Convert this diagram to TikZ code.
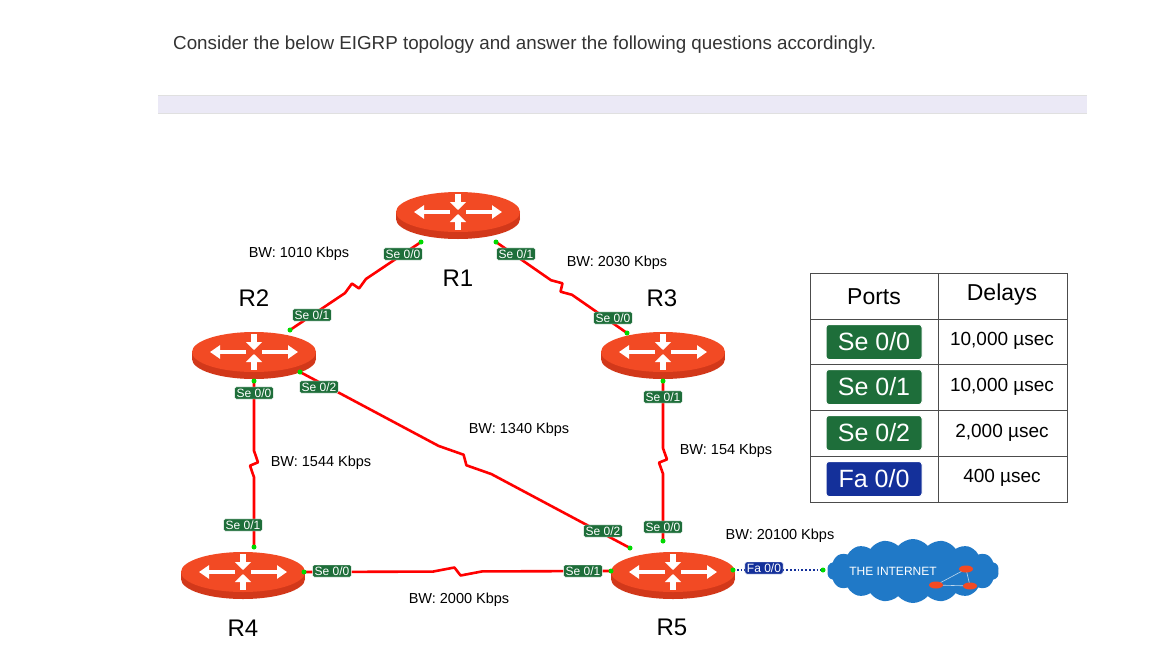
\documentclass[tikz,border=0pt]{standalone}
\usepackage{fontspec}
\setmainfont{Liberation Sans}
\usetikzlibrary{calc,shapes.symbols,arrows.meta}
\definecolor{rtop}{HTML}{F24A24}
\definecolor{rbot}{HTML}{D2381A}
\definecolor{pgreen}{HTML}{1E6E3A}
\definecolor{pblue}{HTML}{14309A}
\definecolor{cloudb}{HTML}{2079C7}
\definecolor{txt}{HTML}{333333}
\definecolor{band}{HTML}{EBE9F6}
\tikzset{
  port/.style={fill=pgreen,draw=white,line width=0.4pt,rounded corners=1.5pt,text=white,font=\fontsize{12}{13}\selectfont,inner xsep=2pt,inner ysep=1.6pt},
  fport/.style={port,fill=pblue},
  bw/.style={font=\fontsize{14.5}{17}\selectfont,text=black},
  rname/.style={font=\fontsize{24}{27}\selectfont,text=black},
  link/.style={red,line width=2.6pt,line join=round},
  pdot/.style={circle,fill=green!85!black,inner sep=0pt,minimum size=5pt},
  tport/.style={fill=pgreen,rounded corners=3pt,text=white,font=\fontsize{25}{28}\selectfont,minimum width=96pt,minimum height=35pt,draw=white,line width=1pt,inner sep=1pt},
  tdel/.style={font=\fontsize{19}{22}\selectfont,text=black},
  router/.pic={
    \fill[rbot] (0,7) ellipse [x radius=62,y radius=20];
    \fill[rbot] (-62,0) rectangle (62,7);
    \fill[rtop] (0,0) ellipse [x radius=62,y radius=20];
    \draw[white,line width=4pt,-{Triangle[length=10pt,width=13pt]}] (-8,0) -- (-44,0);
    \draw[white,line width=4pt,-{Triangle[length=10pt,width=13pt]}] (8,0) -- (44,0);
    \draw[white,line width=6pt,-{Triangle[length=8pt,width=16pt]}] (0,-18) -- (0,-2);
    \draw[white,line width=6pt,-{Triangle[length=8pt,width=16pt]}] (0,18) -- (0,2);
  }
}
\newcommand{\bolt}[2]{%
  \draw[link] (#1) -- ($(#1)!0.42!(#2)$) -- ($(#1)!0.49!(#2)!4pt!90:(#2)$) -- ($(#1)!0.51!(#2)!-4pt!90:(#2)$) -- ($(#1)!0.58!(#2)$) -- (#2);}
\begin{document}
\begin{tikzpicture}[x=1pt,y=-1pt]
\useasboundingbox[fill=white] (0,0) rectangle (1152,648);
\node[anchor=west,text=txt,font=\fontsize{18.8}{22}\selectfont,inner sep=0pt] (title) at (173,45) {Consider the below EIGRP topology and answer the following questions accordingly.};
\fill[band] (158,95) rectangle (1087,113);
\draw[black!12] (158,95) -- (1087,95) (158,113) -- (1087,113);

% routers
\pic at (458,212) {router}; \pic at (254,352) {router}; \pic at (663,352) {router};
\pic at (243,572) {router}; \pic at (673,572) {router};
% port points
\coordinate (a1) at (421,242); \coordinate (a2) at (496,242);
\coordinate (b1) at (290,330); \coordinate (b2) at (300,372); \coordinate (b0) at (254,381);
\coordinate (c0) at (627,333); \coordinate (c1) at (663,381);
\coordinate (d1) at (254,547); \coordinate (d0) at (304,572);
\coordinate (e2) at (630,548); \coordinate (e0) at (663,541); \coordinate (e1) at (611,571); \coordinate (ef) at (733,570);
\coordinate (net) at (823,570);
% links
\bolt{a1}{b1} \bolt{a2}{c0} \bolt{b0}{d1} \bolt{b2}{e2} \bolt{c1}{e0} \bolt{d0}{e1}
\draw[pblue,line width=1.8pt,dotted] (ef) -- (net);
% cloud
\node[cloud,cloud puffs=18,cloud puff arc=100,aspect=3.0,fill=cloudb,minimum width=172pt,minimum height=64pt,inner sep=0pt] (cloud) at (913,571) {};
\node[text=white,font=\fontsize{12}{14}\selectfont] (inet) at (893,571) {THE INTERNET};
\coordinate (m1) at (966,569); \coordinate (m2) at (936,585); \coordinate (m3) at (970,586);
\draw[white!70!cloudb,line width=0.6pt] (m1) -- (m2) -- (m3) -- (m1);
\foreach \m in {m1,m2,m3}{\fill[rtop] (\m) ellipse [x radius=7,y radius=3.5];}
% dots
\foreach \p in {a1,a2,b1,b2,b0,c0,c1,d1,d0,e2,e0,e1,ef,net}{\node[pdot] at (\p) {};}
% port labels
\node[port] (l1) at (403,254) {Se 0/0}; \node[port] (l2) at (516,254) {Se 0/1};
\node[port] (l3) at (312,315) {Se 0/1}; \node[port] (l4) at (319,387) {Se 0/2};
\node[port] (l5) at (254,393) {Se 0/0}; \node[port] (l6) at (613,318) {Se 0/0};
\node[port] (l7) at (663,397) {Se 0/1}; \node[port] (l8) at (243,525) {Se 0/1};
\node[port] (l9) at (332,571) {Se 0/0}; \node[port] (l10) at (603,531) {Se 0/2};
\node[port] (l11) at (663,527) {Se 0/0}; \node[port] (l12) at (583,571) {Se 0/1};
\node[fport] (l13) at (764,568) {Fa 0/0};
% text labels
\node[bw] (w1) at (299,254) {BW: 1010 Kbps}; \node[bw] (w2) at (617,263) {BW: 2030 Kbps};
\node[bw] (w3) at (519,430) {BW: 1340 Kbps}; \node[bw] (w4) at (321,463) {BW: 1544 Kbps};
\node[bw] (w5) at (726,451) {BW: 154 Kbps}; \node[bw] (w6) at (780,536) {BW: 20100 Kbps};
\node[bw] (w7) at (459,600) {BW: 2000 Kbps};
\node[rname] (n1) at (458,278) {R1}; \node[rname] (n2) at (254,298) {R2};
\node[rname] (n3) at (662,298) {R3}; \node[rname] (n4) at (243,628) {R4};
\node[rname] (n5) at (672,627) {R5};
% table
\draw[black!70,line width=0.8pt] (810,273) rectangle (1067,502);
\draw[black!70,line width=0.8pt] (938,273) -- (938,502);
\foreach \y in {319,364,410,456}{\draw[black!70,line width=0.8pt] (810,\y) -- (1067,\y);}
\node[font=\fontsize{23}{26}\selectfont] (h1) at (874,297) {Ports};
\node[font=\fontsize{23}{26}\selectfont] (h2) at (1002,295) {Delays};
\node[tport] (t1) at (874,342) {Se 0/0}; \node[tdel] (d1n) at (1002,341) {10,000 µsec};
\node[tport] (t2) at (874,387) {Se 0/1}; \node[tdel] (d2n) at (1002,387) {10,000 µsec};
\node[tport] (t3) at (874,433) {Se 0/2}; \node[tdel] (d3n) at (1002,433) {2,000 µsec};
\node[tport,fill=pblue] (t4) at (874,479) {Fa 0/0}; \node[tdel] (d4n) at (1002,478) {400 µsec};
\end{tikzpicture}
\end{document}
